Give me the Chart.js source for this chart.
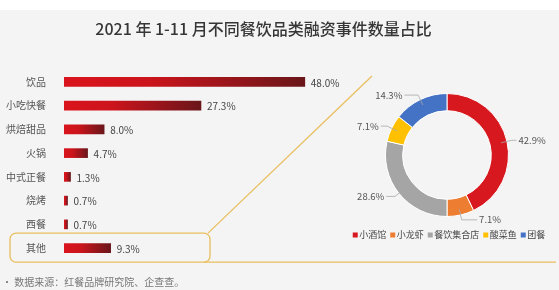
<!DOCTYPE html>
<html>
<head>
<meta charset="utf-8">
<script src="https://cdn.jsdelivr.net/npm/chart.js@4.4.0/dist/chart.umd.min.js"></script>
<style>
    html, body { margin: 0; padding: 0; background: #f4f4f4; }
    #wrap { position: relative; width: 559px; height: 290px; overflow: hidden; background: #f4f4f4;
            font-family: "Noto Sans CJK SC", "Noto Sans", sans-serif; }
    #topband { position: absolute; left: 0; top: 0; width: 559px; height: 10px; background: #fff; }
    #title { position: absolute; left: 0; top: 16px; width: 527px; text-align: center;
             font-size: 16px; font-weight: 500; line-height: 24px; color: #363636; }
    #src { position: absolute; left: 2px; top: 275px; font-size: 10px; line-height: 14px; color: #777; }
    #barCanvas { position: absolute; left: 0; top: 0; }
    #pieCanvas { position: absolute; left: 300px; top: 60px; }
</style>
</head>
<body>
<div id="wrap">
    <div id="topband"></div>
    <canvas id="barCanvas" width="559" height="290"></canvas>
    <canvas id="pieCanvas" width="259" height="190"></canvas>
    <div id="title">2021 年 1-11 月不同餐饮品类融资事件数量占比</div>
    <div id="src">• 数据来源：红餐品牌研究院、企查查。</div>
</div>
<script>
// bar chart data
const categories = ['饮品', '小吃快餐', '烘焙甜品', '火锅', '中式正餐', '烧烤', '西餐', '其他'];
const shares = [48.0, 27.3, 8.0, 4.7, 1.3, 0.7, 0.7, 9.3];

// breakdown of "其他"
const otherLabels = ['小酒馆', '小龙虾', '餐饮集合店', '酸菜鱼', '团餐'];
const otherShares = [42.9, 7.1, 28.6, 7.1, 14.3];
const otherColors = ['#d7181f', '#ed7d31', '#a5a5a5', '#ffc000', '#4472c4'];

const FONT = '"Noto Sans CJK SC", "Noto Sans", sans-serif';

// red -> dark red gradient along each bar
function barGradient(context) {
    const chart = context.chart;
    const x = chart.scales.x;
    if (!chart.chartArea || !x) return '#b8141b';
    const x0 = x.getPixelForValue(0);
    const x1 = x.getPixelForValue(context.raw);
    const g = chart.ctx.createLinearGradient(x0, 0, Math.max(x1, x0 + 1), 0);
    g.addColorStop(0, '#da141c');
    g.addColorStop(0.35, '#cc141c');
    g.addColorStop(1, '#6a161a');
    return g;
}

// percentage text right of each bar
const valueLabels = {
    id: 'valueLabels',
    afterDatasetsDraw(chart) {
        const ctx = chart.ctx;
        const meta = chart.getDatasetMeta(0);
        ctx.save();
        ctx.font = '10px ' + FONT;
        ctx.fillStyle = '#444';
        ctx.textBaseline = 'middle';
        meta.data.forEach((bar, i) => {
            ctx.fillText(shares[i].toFixed(1) + '%', bar.x + 6, bar.y + 1);
        });
        ctx.restore();
    }
};

// yellow box round "其他" and the lines out to the doughnut
const highlight = {
    id: 'highlight',
    afterDraw(chart) {
        const ctx = chart.ctx;
        const y = chart.scales.y.getPixelForValue(categories.length - 1);
        const top = y - 15, bot = y + 14, left = 10, right = 210;
        ctx.save();
        ctx.strokeStyle = '#e9be5e';
        ctx.lineWidth = 1.3;
        ctx.beginPath();
        ctx.roundRect(left, top, right - left, bot - top, 6);
        ctx.stroke();
        ctx.beginPath();
        ctx.moveTo(right - 2, top);
        ctx.lineTo(372, 76);
        ctx.stroke();
        ctx.beginPath();
        ctx.moveTo(right - 6, bot);
        ctx.lineTo(556, bot);
        ctx.stroke();
        ctx.restore();
    }
};

new Chart(document.getElementById('barCanvas'), {
    type: 'bar',
    data: {
        labels: categories,
        datasets: [{
            data: shares,
            backgroundColor: barGradient,
            barThickness: 9,
        }],
    },
    options: {
        indexAxis: 'y',
        responsive: false,
        animation: false,
        layout: { padding: { left: 0, right: 194, top: 70, bottom: 30 } },
        scales: {
            x: { display: false, min: 0, max: 60 },
            y: {
                grid: { display: false },
                border: { display: false },
                ticks: { color: '#555', padding: 10, font: { size: 10, family: FONT } },
                afterFit(scale) { scale.width = 64; },
            },
        },
        plugins: { legend: { display: false }, tooltip: { enabled: false } },
    },
    plugins: [valueLabels, highlight],
});

// outside labels with leader lines
const pieLabelsPlugin = {
    id: 'pieLabels',
    afterDatasetsDraw(chart) {
        const ctx = chart.ctx;
        const meta = chart.getDatasetMeta(0);
        ctx.save();
        ctx.font = '9.5px ' + FONT;
        ctx.fillStyle = '#555';
        ctx.strokeStyle = '#aaa';
        ctx.lineWidth = 0.8;
        ctx.textBaseline = 'middle';
        meta.data.forEach((arc, i) => {
            const mid = (arc.startAngle + arc.endAngle) / 2;
            const c = Math.cos(mid), s = Math.sin(mid);
            const r = arc.outerRadius;
            const sx = arc.x + c * (r - 6), sy = arc.y + s * (r - 6);
            const ex = arc.x + c * (r + 5), ey = arc.y + s * (r + 5);
            const dir = c >= 0 ? 1 : -1;
            const h = 4 + 12 * s * s;
            ctx.beginPath();
            ctx.moveTo(sx, sy);
            ctx.lineTo(ex, ey);
            ctx.lineTo(ex + dir * h, ey);
            ctx.stroke();
            ctx.textAlign = dir > 0 ? 'left' : 'right';
            ctx.fillText(otherShares[i].toFixed(1) + '%', ex + dir * (h + 2), ey);
        });
        ctx.restore();
    }
};

// legend row under the doughnut
const pieLegend = {
    id: 'pieLegend',
    afterDraw(chart) {
        const ctx = chart.ctx;
        const arc = chart.getDatasetMeta(0).data[0];
        ctx.save();
        ctx.font = '9px ' + FONT;
        ctx.textBaseline = 'middle';
        const box = 5, gap = 1.5, itemGap = 4;
        let total = 0;
        otherLabels.forEach((l) => { total += box + gap + ctx.measureText(l).width + itemGap; });
        total -= itemGap;
        let x = arc.x + 2 - total / 2;
        const y = 175;
        otherLabels.forEach((l, i) => {
            ctx.fillStyle = otherColors[i];
            ctx.fillRect(x, y - box / 2, box, box);
            x += box + gap;
            ctx.fillStyle = '#444';
            ctx.fillText(l, x, y);
            x += ctx.measureText(l).width + itemGap;
        });
        ctx.restore();
    }
};

new Chart(document.getElementById('pieCanvas'), {
    type: 'doughnut',
    data: {
        labels: otherLabels,
        datasets: [{
            data: otherShares,
            backgroundColor: otherColors,
            borderColor: '#ffffff',
            borderWidth: 1,
        }],
    },
    options: {
        responsive: false,
        animation: false,
        cutout: '72%',
        layout: { padding: { left: 85, right: 50, top: 33, bottom: 33 } },
        plugins: { legend: { display: false }, tooltip: { enabled: false } },
    },
    plugins: [pieLabelsPlugin, pieLegend],
});
</script>
</body>
</html>
